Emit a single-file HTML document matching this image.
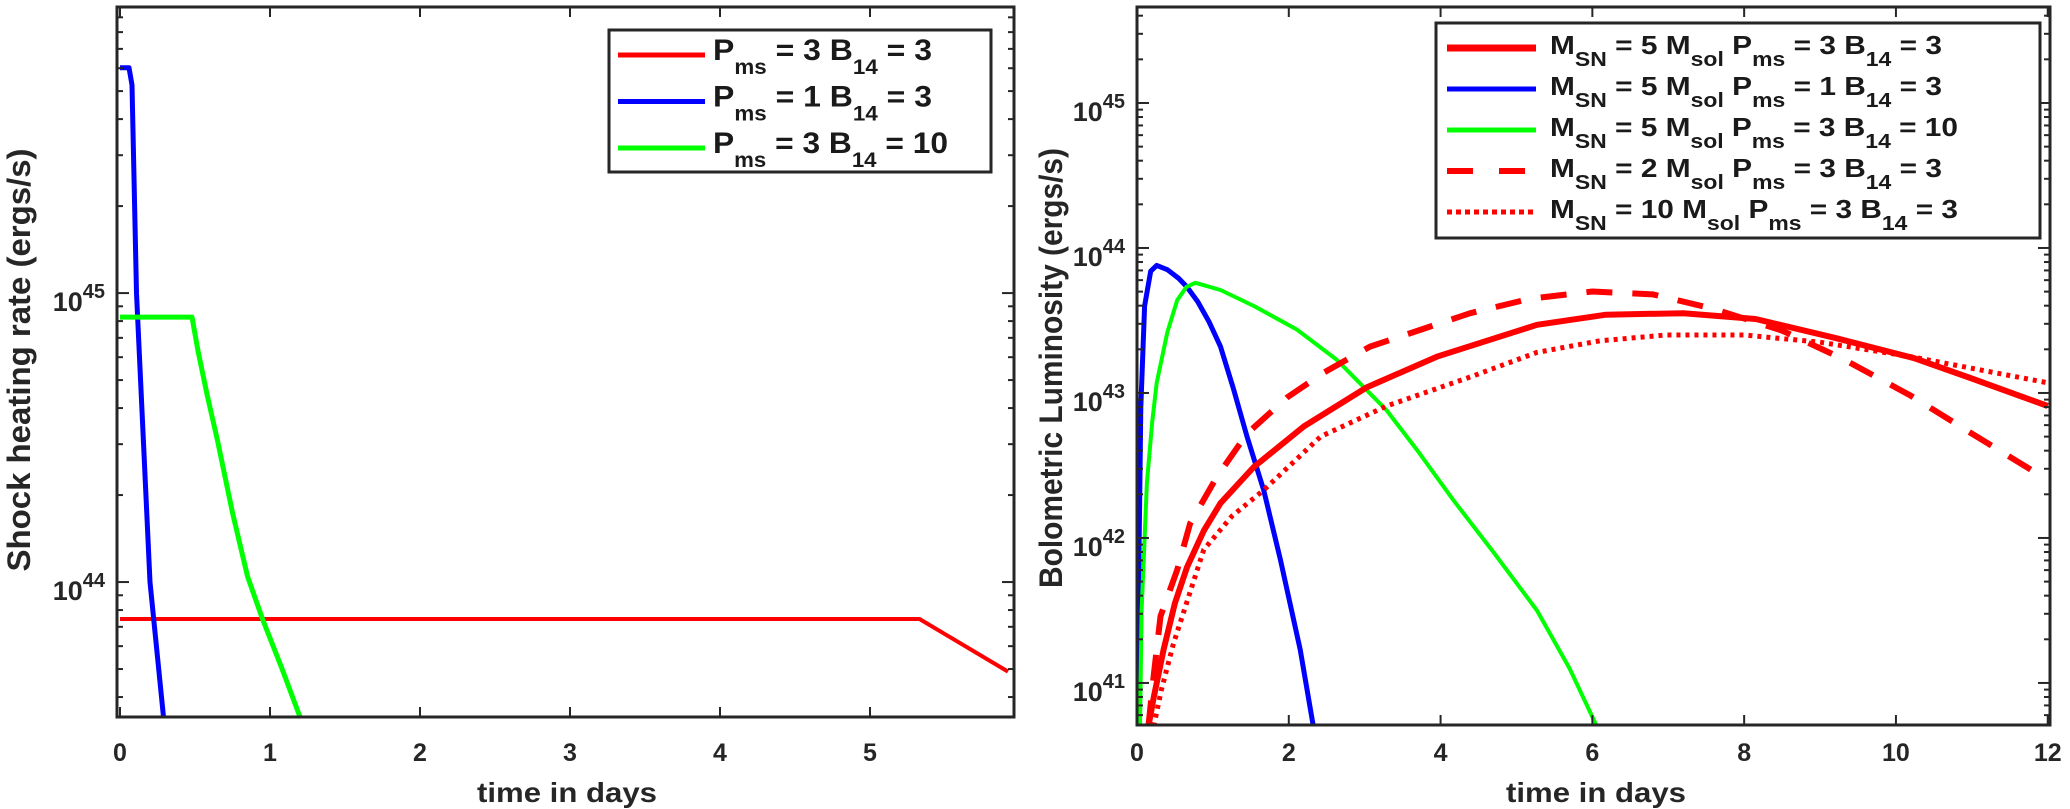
<!DOCTYPE html>
<html><head><meta charset="utf-8"><style>
html,body{margin:0;padding:0;background:#fff;}
svg{display:block;font-family:"Liberation Sans",sans-serif;}
</style></head><body>
<svg id="fig" width="2070" height="809" viewBox="0 0 2070 809" xmlns="http://www.w3.org/2000/svg">
<g id="left"></g>
<g id="right"></g>
</svg>
<script>
// ---- Left chart data (time in days, log10 L) ----
const leftRedT = [0, 5.33, 5.92];
const leftRedL = [43.872, 43.872, 43.69];
const leftBlueT = [0, 0.06, 0.08, 0.11, 0.2, 0.29];
const leftBlueL = [45.78, 45.78, 45.72, 45.0, 44.0, 43.533];
const leftGreenT = [0, 0.48, 0.52, 0.58, 0.65, 0.75, 0.85, 0.95, 1.08, 1.2];
const leftGreenL = [44.917, 44.917, 44.8, 44.65, 44.49, 44.24, 44.02, 43.872, 43.7, 43.533];
const leftXTicks = [0, 1, 2, 3, 4, 5];
const leftYTicks = [44, 45];

// ---- Right chart data ----
const rBlueT = [0, 0.02, 0.05, 0.1, 0.18, 0.26, 0.4, 0.55, 0.66, 0.8, 0.95, 1.1, 1.27, 1.45, 1.67, 1.89, 2.15, 2.32];
const rBlueL = [40.7, 41.6, 42.9, 43.6, 43.84, 43.88, 43.85, 43.79, 43.73, 43.63, 43.49, 43.32, 43.03, 42.70, 42.33, 41.85, 41.23, 40.71];
const rGreenT = [0.04, 0.06, 0.13, 0.2, 0.26, 0.4, 0.53, 0.65, 0.77, 1.1, 1.54, 2.1, 2.63, 3.29, 3.7, 4.17, 4.7, 5.27, 5.7, 6.05];
const rGreenL = [40.7, 41.5, 42.38, 42.8, 43.07, 43.42, 43.64, 43.73, 43.76, 43.71, 43.6, 43.44, 43.23, 42.88, 42.6, 42.26, 41.9, 41.5, 41.1, 40.71];
const rRedT = [0.15, 0.22, 0.35, 0.5, 0.66, 0.88, 1.1, 1.54, 2.2, 3.03, 3.95, 5.27, 6.18, 7.2, 8.15, 9.2, 10.24, 11, 12];
const rRedL = [40.7, 40.9, 41.23, 41.55, 41.80, 42.05, 42.24, 42.49, 42.77, 43.04, 43.25, 43.47, 43.54, 43.55, 43.51, 43.38, 43.24, 43.1, 42.91];
const rDashT = [0.15, 0.22, 0.31, 0.53, 0.70, 1.05, 1.45, 1.98, 2.46, 3.07, 4.39, 5.18, 6.0, 6.8, 7.6, 8.5, 9.32, 10.2, 11, 12];
const rDashL = [40.7, 41.05, 41.46, 41.78, 42.1, 42.42, 42.72, 42.97, 43.14, 43.32, 43.55, 43.65, 43.7, 43.68, 43.58, 43.43, 43.23, 42.98, 42.72, 42.4];
const rDotT = [0.22, 0.32, 0.48, 0.88, 1.25, 1.67, 2.42, 3.29, 4.39, 5.27, 6.1, 6.97, 8.0, 9.0, 10.2, 11, 12];
const rDotL = [40.7, 40.95, 41.27, 41.92, 42.15, 42.33, 42.70, 42.91, 43.11, 43.28, 43.36, 43.4, 43.4, 43.35, 43.25, 43.17, 43.07];
const rightXTicks = [0, 2, 4, 6, 8, 10, 12];
const rightYTicks = [41, 42, 43, 44, 45];

const NS = "http://www.w3.org/2000/svg";
function mk(parent, tag, attrs, text) {
  const el = document.createElementNS(NS, tag);
  for (const k in attrs) el.setAttribute(k, attrs[k]);
  if (text !== undefined) el.textContent = text;
  parent.appendChild(el);
  return el;
}
function scales(box, xlim, ylim) {
  const sx = v => box.x0 + (v - xlim[0]) / (xlim[1] - xlim[0]) * (box.x1 - box.x0);
  const sy = v => box.y1 - (v - ylim[0]) / (ylim[1] - ylim[0]) * (box.y1 - box.y0);
  return { sx, sy };
}
function drawLine(g, sx, sy, T, L, color, width, dash, name) {
  let d = "";
  for (let i = 0; i < T.length; i++) d += (i ? "L" : "M") + sx(T[i]).toFixed(1) + "," + sy(L[i]).toFixed(1);
  const p = mk(g, "path", { d: d, fill: "none", stroke: color, "stroke-width": width, "stroke-linejoin": "round" });
  if (dash) p.setAttribute("stroke-dasharray", dash);
  
  
  return p;
}
function frameTicks(g, box, sx, sy, xTicks, yDecades, ylim) {
  xTicks.forEach(v => {
    const x = sx(v);
    mk(g, "line", { x1: x, x2: x, y1: box.y1, y2: box.y1 - 10, stroke: "#262626", "stroke-width": 2 });
    mk(g, "line", { x1: x, x2: x, y1: box.y0, y2: box.y0 + 10, stroke: "#262626", "stroke-width": 2 });
    const t = mk(g, "text", { x: x, y: 761, "text-anchor": "middle", "font-size": 25, "font-weight": "bold", fill: "#262626" }, String(v));
    
    
  });
  for (let dec = Math.floor(ylim[0]); dec <= Math.ceil(ylim[1]); dec++) {
    for (let m = 1; m <= 9; m++) {
      const v = dec + Math.log10(m);
      if (v < ylim[0] || v > ylim[1]) continue;
      const y = sy(v);
      const len = m === 1 ? 12 : 6;
      mk(g, "line", { x1: box.x0, x2: box.x0 + len, y1: y, y2: y, stroke: "#262626", "stroke-width": 2 });
      mk(g, "line", { x1: box.x1, x2: box.x1 - len, y1: y, y2: y, stroke: "#262626", "stroke-width": 2 });
    }
  }
  yDecades.forEach(d => {
    const y = sy(d);
    const t = mk(g, "text", { x: box.x0 - 12, y: y + 18, "text-anchor": "end", "font-size": 27, "font-weight": "bold", fill: "#262626" });
    
    
    mk(t, "tspan", {}, "10");
    mk(t, "tspan", { dy: -13, "font-size": 20 }, String(d));
  });
  mk(g, "rect", { x: box.x0, y: box.y0, width: box.x1 - box.x0, height: box.y1 - box.y0, fill: "none", stroke: "#262626", "stroke-width": 3 });
}

// ---------- LEFT ----------
(function () {
  const g = document.getElementById("left");
  const box = { x0: 117, x1: 1014, y0: 7, y1: 717 };
  const ylim = [43.533, 45.99];
  const { sx, sy } = scales(box, [-0.02, 5.96], ylim);
  mk(g, "rect", { x: box.x0, y: box.y0, width: box.x1 - box.x0, height: box.y1 - box.y0, fill: "#fff" });
  drawLine(g, sx, sy, leftRedT, leftRedL, "#ff0000", 4, null, "red-series-pms3-b3");
  drawLine(g, sx, sy, leftBlueT, leftBlueL, "#0000ff", 5, null, "blue-series-pms1-b3");
  drawLine(g, sx, sy, leftGreenT, leftGreenL, "#00ff00", 5, null, "green-series-pms3-b10");
  frameTicks(g, box, sx, sy, leftXTicks, leftYTicks, ylim);
  const xl = mk(g, "text", { x: 567, y: 802, "text-anchor": "middle", "font-size": 28, "font-weight": "bold", fill: "#262626", textLength: 180, lengthAdjust: "spacingAndGlyphs" }, "time in days");
  
  
  const yl = mk(g, "text", { x: 0, y: 0, transform: "translate(30,360) rotate(-90)", "text-anchor": "middle", "font-size": 32, "font-weight": "bold", fill: "#262626", textLength: 423, lengthAdjust: "spacingAndGlyphs" }, "Shock heating rate (ergs/s)");
  
  
  const lg = mk(g, "g", {});
  
  
  mk(lg, "rect", { x: 609, y: 30, width: 382, height: 142, fill: "#fff", stroke: "#262626", "stroke-width": 3 });
  const items = [["#ff0000", "3", "3", 219], ["#0000ff", "1", "3", 219], ["#00ff00", "3", "10", 235]];
  items.forEach((it, i) => {
    const y = 55 + i * 46.5;
    const e = mk(lg, "g", {});
    
    
    mk(e, "line", { x1: 618, x2: 705, y1: y, y2: y, stroke: it[0], "stroke-width": 5 });
    const t = mk(e, "text", { x: 713, y: y + 5, "font-size": 30, "font-weight": "bold", fill: "#1a1a1a", textLength: it[3], lengthAdjust: "spacingAndGlyphs" });
    mk(t, "tspan", {}, "P");
    mk(t, "tspan", { dy: 14, "font-size": 21 }, "ms");
    mk(t, "tspan", { dy: -14 }, " = " + it[1] + " B");
    mk(t, "tspan", { dy: 14, "font-size": 21 }, "14");
    mk(t, "tspan", { dy: -14 }, " = " + it[2]);
  });
})();

// ---------- RIGHT ----------
(function () {
  const g = document.getElementById("right");
  const box = { x0: 1137, x1: 2050, y0: 7, y1: 725 };
  const ylim = [40.71, 45.662];
  const { sx, sy } = scales(box, [0, 12.03], ylim);
  mk(g, "rect", { x: box.x0, y: box.y0, width: box.x1 - box.x0, height: box.y1 - box.y0, fill: "#fff" });
  const cp = mk(g, "clipPath", { id: "rclip" });
  mk(cp, "rect", { x: box.x0, y: box.y0, width: box.x1 - box.x0, height: box.y1 - box.y0 });
  const lines = mk(g, "g", { "clip-path": "url(#rclip)" });
  drawLine(lines, sx, sy, rBlueT, rBlueL, "#0000ff", 5, null, "blue-series-m5-pms1-b3");
  drawLine(lines, sx, sy, rGreenT, rGreenL, "#00ff00", 4, null, "green-series-m5-pms3-b10");
  drawLine(lines, sx, sy, rRedT, rRedL, "#ff0000", 6, null, "red-solid-series-m5");
  drawLine(lines, sx, sy, rDashT, rDashL, "#ff0000", 6, "26,20", "red-dashed-series-m2");
  drawLine(lines, sx, sy, rDotT, rDotL, "#ff0000", 5, "4,5", "red-dotted-series-m10");
  frameTicks(g, box, sx, sy, rightXTicks, rightYTicks, ylim);
  const xl = mk(g, "text", { x: 1596, y: 802, "text-anchor": "middle", "font-size": 28, "font-weight": "bold", fill: "#262626", textLength: 180, lengthAdjust: "spacingAndGlyphs" }, "time in days");
  
  
  const yl = mk(g, "text", { x: 0, y: 0, transform: "translate(1062,368) rotate(-90)", "text-anchor": "middle", "font-size": 32, "font-weight": "bold", fill: "#262626", textLength: 440, lengthAdjust: "spacingAndGlyphs" }, "Bolometric Luminosity (ergs/s)");
  
  
  const lg = mk(g, "g", {});
  
  
  mk(lg, "rect", { x: 1436, y: 23, width: 604, height: 215, fill: "#fff", stroke: "#262626", "stroke-width": 3 });
  const items = [
    ["5", "3", "3", null, 7, "#ff0000", 392], ["5", "1", "3", null, 5, "#0000ff", 392], ["5", "3", "10", null, 5, "#00ff00", 408],
    ["2", "3", "3", "26,26", 6, "#ff0000", 392], ["10", "3", "3", "5,4", 5, "#ff0000", 408]];
  items.forEach((it, i) => {
    const y = 48 + i * 41;
    const e = mk(lg, "g", {});
    
    
    const ln = mk(e, "line", { x1: 1447, x2: 1536, y1: y, y2: y, stroke: it[5], "stroke-width": it[4] });
    if (it[3]) ln.setAttribute("stroke-dasharray", it[3]);
    const t = mk(e, "text", { x: 1550, y: y + 6, "font-size": 26, "font-weight": "bold", fill: "#1a1a1a", textLength: it[6], lengthAdjust: "spacingAndGlyphs" });
    mk(t, "tspan", {}, "M");
    mk(t, "tspan", { dy: 12, "font-size": 20 }, "SN");
    mk(t, "tspan", { dy: -12 }, " = " + it[0] + " M");
    mk(t, "tspan", { dy: 12, "font-size": 20 }, "sol");
    mk(t, "tspan", { dy: -12 }, "  P");
    mk(t, "tspan", { dy: 12, "font-size": 20 }, "ms");
    mk(t, "tspan", { dy: -12 }, " = " + it[1] + "  B");
    mk(t, "tspan", { dy: 12, "font-size": 20 }, "14");
    mk(t, "tspan", { dy: -12 }, " = " + it[2]);
  });
})();
</script>
</body></html>
